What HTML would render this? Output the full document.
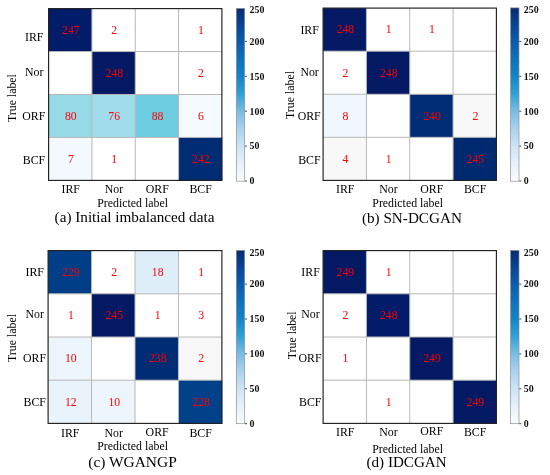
<!DOCTYPE html>
<html><head><meta charset="utf-8"><title>Confusion matrices</title>
<style>
html,body{margin:0;padding:0;background:#fff;}
body{width:550px;height:475px;overflow:hidden;}
svg{display:block;}
text{font-family:"Liberation Serif","DejaVu Serif",serif;}
.t{font-size:11.85px;fill:#000;text-anchor:middle;}
.n{font-size:12.5px;fill:#ff0000;text-anchor:middle;}
.c{font-size:15px;fill:#000;text-anchor:middle;}
.b{font-size:9.9px;font-weight:bold;fill:#111;text-anchor:start;}
</style></head><body>
<svg width="550" height="475" viewBox="0 0 550 475">
<defs>
<linearGradient id="cbg" x1="0" y1="1" x2="0" y2="0">
<stop offset="0.0000" stop-color="#fafcff"/><stop offset="0.1008" stop-color="#e6f1fb"/><stop offset="0.2016" stop-color="#cde4f6"/><stop offset="0.3024" stop-color="#aad2ee"/><stop offset="0.4032" stop-color="#78bee4"/><stop offset="0.5040" stop-color="#32a0d7"/><stop offset="0.6048" stop-color="#1484c8"/><stop offset="0.7056" stop-color="#0e71bc"/><stop offset="0.8065" stop-color="#095cac"/><stop offset="0.9073" stop-color="#084494"/><stop offset="0.9677" stop-color="#08347d"/><stop offset="1.0000" stop-color="#082a70"/></linearGradient></defs>
<g><rect x="48.60" y="8.60" width="43.62" height="43.25" fill="#031c69"/><rect x="91.93" y="8.60" width="43.62" height="43.25" fill="#ffffff"/><rect x="135.25" y="8.60" width="43.62" height="43.25" fill="#ffffff"/><rect x="178.58" y="8.60" width="43.62" height="43.25" fill="#ffffff"/><rect x="48.60" y="51.55" width="43.62" height="43.25" fill="#ffffff"/><rect x="91.93" y="51.55" width="43.62" height="43.25" fill="#031964"/><rect x="135.25" y="51.55" width="43.62" height="43.25" fill="#ffffff"/><rect x="178.58" y="51.55" width="43.62" height="43.25" fill="#ffffff"/><rect x="48.60" y="94.50" width="43.62" height="43.25" fill="#96dae8"/><rect x="91.93" y="94.50" width="43.62" height="43.25" fill="#a0dceb"/><rect x="135.25" y="94.50" width="43.62" height="43.25" fill="#6ecde1"/><rect x="178.58" y="94.50" width="43.62" height="43.25" fill="#f5fafe"/><rect x="48.60" y="137.45" width="43.62" height="43.25" fill="#f3f9fe"/><rect x="91.93" y="137.45" width="43.62" height="43.25" fill="#ffffff"/><rect x="135.25" y="137.45" width="43.62" height="43.25" fill="#ffffff"/><rect x="178.58" y="137.45" width="43.62" height="43.25" fill="#002c73"/><line x1="91.93" y1="8.60" x2="91.93" y2="180.40" stroke="#b8b8b8" stroke-width="1"/><line x1="48.60" y1="51.55" x2="221.90" y2="51.55" stroke="#b8b8b8" stroke-width="1"/><line x1="135.25" y1="8.60" x2="135.25" y2="180.40" stroke="#b8b8b8" stroke-width="1"/><line x1="48.60" y1="94.50" x2="221.90" y2="94.50" stroke="#b8b8b8" stroke-width="1"/><line x1="178.58" y1="8.60" x2="178.58" y2="180.40" stroke="#b8b8b8" stroke-width="1"/><line x1="48.60" y1="137.45" x2="221.90" y2="137.45" stroke="#b8b8b8" stroke-width="1"/><rect x="48.60" y="8.60" width="173.30" height="171.80" fill="none" stroke="#202020" stroke-width="1.15"/><text class="n" transform="translate(70.86 33.88) scale(0.94 1)">247</text><text class="n" transform="translate(114.19 33.88) scale(0.94 1)">2</text><text class="n" transform="translate(200.84 33.88) scale(0.94 1)">1</text><text class="n" transform="translate(114.19 76.83) scale(0.94 1)">248</text><text class="n" transform="translate(200.84 76.83) scale(0.94 1)">2</text><text class="n" transform="translate(70.86 119.77) scale(0.94 1)">80</text><text class="n" transform="translate(114.19 119.77) scale(0.94 1)">76</text><text class="n" transform="translate(157.51 119.77) scale(0.94 1)">88</text><text class="n" transform="translate(200.84 119.77) scale(0.94 1)">6</text><text class="n" transform="translate(70.86 162.73) scale(0.94 1)">7</text><text class="n" transform="translate(114.19 162.73) scale(0.94 1)">1</text><text class="n" transform="translate(200.84 162.73) scale(0.94 1)">242</text><text class="t" x="34.20" y="40.80">IRF</text><text class="t" x="34.20" y="75.80">Nor</text><text class="t" x="33.80" y="119.90">ORF</text><text class="t" x="34.00" y="163.70">BCF</text><text class="t" x="70.66" y="193.30">IRF</text><text class="t" x="113.99" y="193.30">Nor</text><text class="t" x="157.31" y="192.70">ORF</text><text class="t" x="200.64" y="193.10">BCF</text><text class="t" transform="translate(15.50 98.10) rotate(-90)">True label</text><text class="t" x="132.60" y="206.60">Predicted label</text><text class="c" x="134.50" y="221.80" style="font-size:15.2px">(a) Initial imbalanced data</text><rect x="236.30" y="8.40" width="8.40" height="172.80" fill="url(#cbg)" stroke="#909090" stroke-width="0.7"/><line x1="245.00" y1="181.00" x2="247.00" y2="181.00" stroke="#333" stroke-width="0.9"/><text class="b" x="249.50" y="184.30">0</text><line x1="245.00" y1="146.10" x2="247.00" y2="146.10" stroke="#333" stroke-width="0.9"/><text class="b" x="249.50" y="149.40">50</text><line x1="245.00" y1="111.20" x2="247.00" y2="111.20" stroke="#333" stroke-width="0.9"/><text class="b" x="249.50" y="114.50">100</text><line x1="245.00" y1="76.30" x2="247.00" y2="76.30" stroke="#333" stroke-width="0.9"/><text class="b" x="249.50" y="79.60">150</text><line x1="245.00" y1="41.40" x2="247.00" y2="41.40" stroke="#333" stroke-width="0.9"/><text class="b" x="249.50" y="44.70">200</text><text class="b" x="249.50" y="13.40">250</text></g>
<g><rect x="323.10" y="8.10" width="43.62" height="43.38" fill="#031964"/><rect x="366.43" y="8.10" width="43.62" height="43.38" fill="#ffffff"/><rect x="409.75" y="8.10" width="43.62" height="43.38" fill="#ffffff"/><rect x="453.07" y="8.10" width="43.62" height="43.38" fill="#ffffff"/><rect x="323.10" y="51.18" width="43.62" height="43.38" fill="#ffffff"/><rect x="366.43" y="51.18" width="43.62" height="43.38" fill="#031964"/><rect x="409.75" y="51.18" width="43.62" height="43.38" fill="#ffffff"/><rect x="453.07" y="51.18" width="43.62" height="43.38" fill="#ffffff"/><rect x="323.10" y="94.25" width="43.62" height="43.38" fill="#f1f8fd"/><rect x="366.43" y="94.25" width="43.62" height="43.38" fill="#ffffff"/><rect x="409.75" y="94.25" width="43.62" height="43.38" fill="#002d75"/><rect x="453.07" y="94.25" width="43.62" height="43.38" fill="#f8f8f8"/><rect x="323.10" y="137.33" width="43.62" height="43.38" fill="#f8f8f8"/><rect x="366.43" y="137.33" width="43.62" height="43.38" fill="#ffffff"/><rect x="409.75" y="137.33" width="43.62" height="43.38" fill="#ffffff"/><rect x="453.07" y="137.33" width="43.62" height="43.38" fill="#002a70"/><line x1="366.43" y1="8.10" x2="366.43" y2="180.40" stroke="#b8b8b8" stroke-width="1"/><line x1="323.10" y1="51.18" x2="496.40" y2="51.18" stroke="#b8b8b8" stroke-width="1"/><line x1="409.75" y1="8.10" x2="409.75" y2="180.40" stroke="#b8b8b8" stroke-width="1"/><line x1="323.10" y1="94.25" x2="496.40" y2="94.25" stroke="#b8b8b8" stroke-width="1"/><line x1="453.07" y1="8.10" x2="453.07" y2="180.40" stroke="#b8b8b8" stroke-width="1"/><line x1="323.10" y1="137.33" x2="496.40" y2="137.33" stroke="#b8b8b8" stroke-width="1"/><rect x="323.10" y="8.10" width="173.30" height="172.30" fill="none" stroke="#202020" stroke-width="1.15"/><text class="n" transform="translate(345.36 33.44) scale(0.94 1)">248</text><text class="n" transform="translate(388.69 33.44) scale(0.94 1)">1</text><text class="n" transform="translate(432.01 33.44) scale(0.94 1)">1</text><text class="n" transform="translate(345.36 76.51) scale(0.94 1)">2</text><text class="n" transform="translate(388.69 76.51) scale(0.94 1)">248</text><text class="n" transform="translate(345.36 119.59) scale(0.94 1)">8</text><text class="n" transform="translate(432.01 119.59) scale(0.94 1)">240</text><text class="n" transform="translate(475.34 119.59) scale(0.94 1)">2</text><text class="n" transform="translate(345.36 162.66) scale(0.94 1)">4</text><text class="n" transform="translate(388.69 162.66) scale(0.94 1)">1</text><text class="n" transform="translate(475.34 162.66) scale(0.94 1)">245</text><text class="t" x="309.60" y="33.70">IRF</text><text class="t" x="309.60" y="75.80">Nor</text><text class="t" x="309.20" y="119.90">ORF</text><text class="t" x="309.40" y="163.70">BCF</text><text class="t" x="345.16" y="193.40">IRF</text><text class="t" x="388.49" y="193.40">Nor</text><text class="t" x="431.81" y="192.80">ORF</text><text class="t" x="475.14" y="193.20">BCF</text><text class="t" transform="translate(294.10 95.00) rotate(-90)">True label</text><text class="t" x="407.70" y="206.60">Predicted label</text><text class="c" x="411.90" y="222.80" style="font-size:15.2px">(b) SN-DCGAN</text><rect x="510.60" y="7.90" width="8.40" height="173.30" fill="url(#cbg)" stroke="#909090" stroke-width="0.7"/><line x1="519.30" y1="181.00" x2="521.30" y2="181.00" stroke="#333" stroke-width="0.9"/><text class="b" x="523.80" y="184.30">0</text><line x1="519.30" y1="146.10" x2="521.30" y2="146.10" stroke="#333" stroke-width="0.9"/><text class="b" x="523.80" y="149.40">50</text><line x1="519.30" y1="111.20" x2="521.30" y2="111.20" stroke="#333" stroke-width="0.9"/><text class="b" x="523.80" y="114.50">100</text><line x1="519.30" y1="76.30" x2="521.30" y2="76.30" stroke="#333" stroke-width="0.9"/><text class="b" x="523.80" y="79.60">150</text><line x1="519.30" y1="41.40" x2="521.30" y2="41.40" stroke="#333" stroke-width="0.9"/><text class="b" x="523.80" y="44.70">200</text><text class="b" x="523.80" y="13.40">250</text></g>
<g><rect x="48.10" y="250.60" width="43.75" height="43.50" fill="#003f88"/><rect x="91.55" y="250.60" width="43.75" height="43.50" fill="#ffffff"/><rect x="135.00" y="250.60" width="43.75" height="43.50" fill="#deeef9"/><rect x="178.45" y="250.60" width="43.75" height="43.50" fill="#ffffff"/><rect x="48.10" y="293.80" width="43.75" height="43.50" fill="#ffffff"/><rect x="91.55" y="293.80" width="43.75" height="43.50" fill="#031964"/><rect x="135.00" y="293.80" width="43.75" height="43.50" fill="#ffffff"/><rect x="178.45" y="293.80" width="43.75" height="43.50" fill="#ffffff"/><rect x="48.10" y="337.00" width="43.75" height="43.50" fill="#ecf5fc"/><rect x="91.55" y="337.00" width="43.75" height="43.50" fill="#ffffff"/><rect x="135.00" y="337.00" width="43.75" height="43.50" fill="#002c74"/><rect x="178.45" y="337.00" width="43.75" height="43.50" fill="#f8f8f8"/><rect x="48.10" y="380.20" width="43.75" height="43.50" fill="#e8f3fb"/><rect x="91.55" y="380.20" width="43.75" height="43.50" fill="#ecf5fc"/><rect x="135.00" y="380.20" width="43.75" height="43.50" fill="#ffffff"/><rect x="178.45" y="380.20" width="43.75" height="43.50" fill="#00418a"/><line x1="91.55" y1="250.60" x2="91.55" y2="423.40" stroke="#b8b8b8" stroke-width="1"/><line x1="48.10" y1="293.80" x2="221.90" y2="293.80" stroke="#b8b8b8" stroke-width="1"/><line x1="135.00" y1="250.60" x2="135.00" y2="423.40" stroke="#b8b8b8" stroke-width="1"/><line x1="48.10" y1="337.00" x2="221.90" y2="337.00" stroke="#b8b8b8" stroke-width="1"/><line x1="178.45" y1="250.60" x2="178.45" y2="423.40" stroke="#b8b8b8" stroke-width="1"/><line x1="48.10" y1="380.20" x2="221.90" y2="380.20" stroke="#b8b8b8" stroke-width="1"/><rect x="48.10" y="250.60" width="173.80" height="172.80" fill="none" stroke="#202020" stroke-width="1.15"/><text class="n" transform="translate(70.83 276.00) scale(0.94 1)">229</text><text class="n" transform="translate(114.28 276.00) scale(0.94 1)">2</text><text class="n" transform="translate(157.72 276.00) scale(0.94 1)">18</text><text class="n" transform="translate(201.18 276.00) scale(0.94 1)">1</text><text class="n" transform="translate(70.83 319.20) scale(0.94 1)">1</text><text class="n" transform="translate(114.28 319.20) scale(0.94 1)">245</text><text class="n" transform="translate(157.72 319.20) scale(0.94 1)">1</text><text class="n" transform="translate(201.18 319.20) scale(0.94 1)">3</text><text class="n" transform="translate(70.83 362.40) scale(0.94 1)">10</text><text class="n" transform="translate(157.72 362.40) scale(0.94 1)">238</text><text class="n" transform="translate(201.18 362.40) scale(0.94 1)">2</text><text class="n" transform="translate(70.83 405.60) scale(0.94 1)">12</text><text class="n" transform="translate(114.28 405.60) scale(0.94 1)">10</text><text class="n" transform="translate(201.18 405.60) scale(0.94 1)">228</text><text class="t" x="34.70" y="275.80">IRF</text><text class="t" x="34.70" y="317.90">Nor</text><text class="t" x="34.50" y="361.80">ORF</text><text class="t" x="34.70" y="405.80">BCF</text><text class="t" x="70.23" y="436.50">IRF</text><text class="t" x="113.68" y="436.50">Nor</text><text class="t" x="157.12" y="435.90">ORF</text><text class="t" x="200.58" y="436.50">BCF</text><text class="t" transform="translate(15.80 338.00) rotate(-90)">True label</text><text class="t" x="132.60" y="449.60">Predicted label</text><text class="c" x="132.50" y="466.80" style="font-size:15.45px">(c) WGANGP</text><rect x="236.30" y="250.40" width="8.40" height="173.30" fill="url(#cbg)" stroke="#909090" stroke-width="0.7"/><line x1="245.00" y1="423.70" x2="247.00" y2="423.70" stroke="#333" stroke-width="0.9"/><text class="b" x="249.50" y="427.00">0</text><line x1="245.00" y1="388.80" x2="247.00" y2="388.80" stroke="#333" stroke-width="0.9"/><text class="b" x="249.50" y="392.10">50</text><line x1="245.00" y1="353.90" x2="247.00" y2="353.90" stroke="#333" stroke-width="0.9"/><text class="b" x="249.50" y="357.20">100</text><line x1="245.00" y1="319.00" x2="247.00" y2="319.00" stroke="#333" stroke-width="0.9"/><text class="b" x="249.50" y="322.30">150</text><line x1="245.00" y1="284.10" x2="247.00" y2="284.10" stroke="#333" stroke-width="0.9"/><text class="b" x="249.50" y="287.40">200</text><text class="b" x="249.50" y="255.90">250</text></g>
<g><rect x="323.10" y="250.60" width="43.62" height="43.50" fill="#031964"/><rect x="366.43" y="250.60" width="43.62" height="43.50" fill="#ffffff"/><rect x="409.75" y="250.60" width="43.62" height="43.50" fill="#ffffff"/><rect x="453.07" y="250.60" width="43.62" height="43.50" fill="#ffffff"/><rect x="323.10" y="293.80" width="43.62" height="43.50" fill="#ffffff"/><rect x="366.43" y="293.80" width="43.62" height="43.50" fill="#031c69"/><rect x="409.75" y="293.80" width="43.62" height="43.50" fill="#ffffff"/><rect x="453.07" y="293.80" width="43.62" height="43.50" fill="#ffffff"/><rect x="323.10" y="337.00" width="43.62" height="43.50" fill="#ffffff"/><rect x="366.43" y="337.00" width="43.62" height="43.50" fill="#ffffff"/><rect x="409.75" y="337.00" width="43.62" height="43.50" fill="#031964"/><rect x="453.07" y="337.00" width="43.62" height="43.50" fill="#ffffff"/><rect x="323.10" y="380.20" width="43.62" height="43.50" fill="#ffffff"/><rect x="366.43" y="380.20" width="43.62" height="43.50" fill="#ffffff"/><rect x="409.75" y="380.20" width="43.62" height="43.50" fill="#ffffff"/><rect x="453.07" y="380.20" width="43.62" height="43.50" fill="#031964"/><line x1="366.43" y1="250.60" x2="366.43" y2="423.40" stroke="#b8b8b8" stroke-width="1"/><line x1="323.10" y1="293.80" x2="496.40" y2="293.80" stroke="#b8b8b8" stroke-width="1"/><line x1="409.75" y1="250.60" x2="409.75" y2="423.40" stroke="#b8b8b8" stroke-width="1"/><line x1="323.10" y1="337.00" x2="496.40" y2="337.00" stroke="#b8b8b8" stroke-width="1"/><line x1="453.07" y1="250.60" x2="453.07" y2="423.40" stroke="#b8b8b8" stroke-width="1"/><line x1="323.10" y1="380.20" x2="496.40" y2="380.20" stroke="#b8b8b8" stroke-width="1"/><rect x="323.10" y="250.60" width="173.30" height="172.80" fill="none" stroke="#202020" stroke-width="1.15"/><text class="n" transform="translate(345.36 276.00) scale(0.94 1)">249</text><text class="n" transform="translate(388.69 276.00) scale(0.94 1)">1</text><text class="n" transform="translate(345.36 319.20) scale(0.94 1)">2</text><text class="n" transform="translate(388.69 319.20) scale(0.94 1)">248</text><text class="n" transform="translate(345.36 362.40) scale(0.94 1)">1</text><text class="n" transform="translate(432.01 362.40) scale(0.94 1)">249</text><text class="n" transform="translate(388.69 405.60) scale(0.94 1)">1</text><text class="n" transform="translate(475.34 405.60) scale(0.94 1)">249</text><text class="t" x="310.50" y="275.80">IRF</text><text class="t" x="310.50" y="317.90">Nor</text><text class="t" x="310.00" y="361.80">ORF</text><text class="t" x="310.20" y="405.80">BCF</text><text class="t" x="345.16" y="435.70">IRF</text><text class="t" x="388.49" y="435.70">Nor</text><text class="t" x="431.81" y="434.90">ORF</text><text class="t" x="475.14" y="435.70">BCF</text><text class="t" transform="translate(296.00 335.30) rotate(-90)">True label</text><text class="t" x="407.60" y="452.90">Predicted label</text><text class="c" x="406.60" y="466.80" style="font-size:15.1px">(d) IDCGAN</text><rect x="510.60" y="250.40" width="8.40" height="173.30" fill="url(#cbg)" stroke="#909090" stroke-width="0.7"/><line x1="519.30" y1="423.70" x2="521.30" y2="423.70" stroke="#333" stroke-width="0.9"/><text class="b" x="523.80" y="427.00">0</text><line x1="519.30" y1="388.80" x2="521.30" y2="388.80" stroke="#333" stroke-width="0.9"/><text class="b" x="523.80" y="392.10">50</text><line x1="519.30" y1="353.90" x2="521.30" y2="353.90" stroke="#333" stroke-width="0.9"/><text class="b" x="523.80" y="357.20">100</text><line x1="519.30" y1="319.00" x2="521.30" y2="319.00" stroke="#333" stroke-width="0.9"/><text class="b" x="523.80" y="322.30">150</text><line x1="519.30" y1="284.10" x2="521.30" y2="284.10" stroke="#333" stroke-width="0.9"/><text class="b" x="523.80" y="287.40">200</text><text class="b" x="523.80" y="255.90">250</text></g>
</svg>
</body></html>
